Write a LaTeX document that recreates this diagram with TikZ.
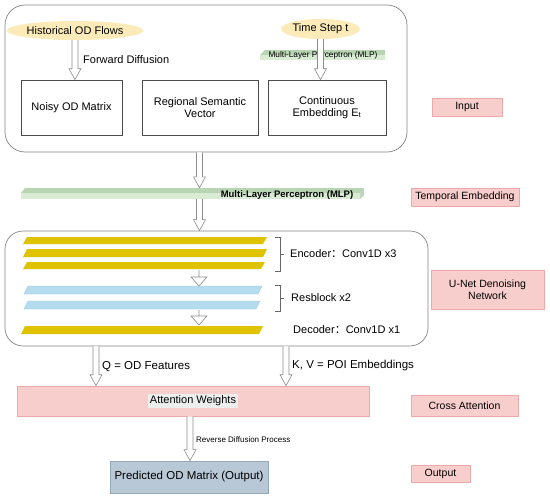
\documentclass[tikz,border=0pt]{standalone}
\usepackage{fontspec}
\setmainfont{Liberation Sans}
\newfontfamily\cjk{Noto Sans CJK SC}
\usetikzlibrary{calc,shapes.geometric}
\definecolor{ellfill}{HTML}{FCEBB8}
\definecolor{pinkfill}{HTML}{F8CECC}
\definecolor{pinkdraw}{HTML}{EDA9A7}
\definecolor{goldbar}{HTML}{E0C300}
\definecolor{bluebar}{HTML}{B5DCEE}
\definecolor{bluedraw}{HTML}{9CCBE0}
\definecolor{greentop}{HTML}{B8D4B2}
\definecolor{greenfront}{HTML}{D9EBD5}
\definecolor{greendraw}{HTML}{A5C59F}
\definecolor{predfill}{HTML}{B9C8D6}
\definecolor{preddraw}{HTML}{94A8BA}
\definecolor{arrgray}{HTML}{8C8C8C}
\definecolor{panelgray}{HTML}{858585}
\definecolor{hilite}{HTML}{ECEEEE}
\newcommand{\fsz}[1]{\fontsize{#1}{#1}\selectfont}
\newcommand{\harr}[2]{\draw[hollowarrow] let \p1=#1, \p2=#2 in
  (\x1-3pt,\y1) -- (\x1-3pt,\y2+11pt) -- (\x1-6pt,\y2+11pt) -- (\x1,\y2)
  -- (\x1+6pt,\y2+11pt) -- (\x1+3pt,\y2+11pt) -- (\x1+3pt,\y1);}
\newcommand{\sarr}[2]{\draw[smallarrow] let \p1=#1, \p2=#2 in
  (\x1,\y1) -- (\x1,\y2+9pt) (\x1-8pt,\y2+9pt) -- (\x1,\y2) -- (\x1+8pt,\y2+9pt) -- cycle;}
\tikzset{
  hollowarrow/.style={draw=arrgray, fill=white, line width=0.6pt, line join=miter},
  smallarrow/.style={draw=arrgray, fill=white, line width=0.6pt},
  panel/.style={draw=panelgray, line width=0.7pt, rounded corners=20pt, inner sep=0pt},
  ellnode/.style={ellipse, fill=ellfill, inner sep=0pt, font=\fsz{11}},
  box/.style={draw=black!70, line width=0.6pt, fill=white, align=center, inner sep=0pt, font=\fsz{11}},
  lbl/.style={draw=pinkdraw, fill=pinkfill, line width=0.6pt, align=center, inner sep=0pt, font=\fsz{10.5}},
  txt/.style={inner sep=0pt, anchor=west, font=\fsz{11}},
  brk/.style={draw=black!60, line width=0.7pt},
}
\begin{document}
\begin{tikzpicture}[x=1pt,y=-1pt]
\fill[white] (0,0) rectangle (550,498);
\useasboundingbox (0,0) rectangle (550,498);
\coordinate (spine) at (199.5,0);

% ---------- Input panel ----------
\node[panel, minimum width=402pt, minimum height=147pt] (inpanel) at (206,78.5) {};
\node[ellnode, minimum width=120pt, minimum height=19pt] (hist) at (75,30.5) {Historical OD Flows};
\node[ellnode, minimum width=71pt, minimum height=20pt] (ts) at (320.5,29) {Time Step t};
\node[box, minimum width=101pt, minimum height=55pt] (noisy) at (71.5,107.5) {Noisy OD Matrix};
\node[box, minimum width=116pt, minimum height=55pt] (region) at (200,107.5) {Regional Semantic\\[1pt]Vector};
\node[box, minimum width=118pt, minimum height=55pt] (cont) at (327,107.5) {Continuous\\[1pt]Embedding E\textsubscript{t}};

% small MLP bar
\fill[greentop] (260,55) -- (265,50) -- (385,50) -- (385,55) -- cycle;
\fill[greenfront] (260,55) -- (385,55) -- (385,60) -- (260,60) -- cycle;
\node[inner sep=0pt, font=\fsz{8.3}] (mlpsmall) at (323,55) {Multi-Layer Perceptron (MLP)};

\harr{(hist.south)}{(hist.south |- noisy.north)}
\node[txt] (fwd) at (83,60) {Forward Diffusion};
\harr{(ts.south)}{(ts.south |- cont.north)}

% ---------- big MLP ----------
\node[minimum width=343pt, minimum height=11pt, inner sep=0pt] (mlp) at (192.5,193.5) {};
\fill[greentop] (21,193) -- (25,188) -- (364,188) -- (360,193) -- cycle;
\fill[greenfront] (21,193) -- (360,193) -- (360,199) -- (21,199) -- cycle;
\fill[greendraw!70] (360,193) -- (364,188) -- (364,195) -- (360,199) -- cycle;
\node[inner sep=0pt, font=\fsz{9.5}\bfseries] (mlptext) at (287,195) {Multi-Layer Perceptron (MLP)};

\harr{(spine |- inpanel.south)}{(spine |- mlp.north)}

% ---------- U-Net ----------
\node[panel, rounded corners=18pt, minimum width=423pt, minimum height=115pt] (unet) at (216.5,288.5) {};
\harr{(spine |- mlp.south)}{(spine |- unet.north)}

\fill[goldbar] (23,244) -- (27,237) -- (267,237) -- (263,244) -- cycle;
\fill[goldbar] (23,257) -- (27,249) -- (267,249) -- (263,257) -- cycle;
\fill[goldbar] (23,269) -- (27,262) -- (265,262) -- (261,269) -- cycle;
\filldraw[fill=bluebar, draw=bluedraw, line width=0.4pt] (24,294) -- (28,286) -- (262,286) -- (258,294) -- cycle;
\filldraw[fill=bluebar, draw=bluedraw, line width=0.4pt] (24,309) -- (28,301) -- (260,301) -- (256,309) -- cycle;
\fill[goldbar] (21,334) -- (25,326) -- (263,326) -- (259,334) -- cycle;

\coordinate (g3b) at (199,270);
\coordinate (b1t) at (199,286);
\coordinate (b2b) at (199,310);
\coordinate (g4t) at (199,325);
\sarr{(g3b)}{(b1t)}
\sarr{(b2b)}{(g4t)}

\draw[brk] (275,237) -- (280,237) -- (280,271) -- (275,271) (280,254) -- (284,254);
\draw[brk] (275,285) -- (280,285) -- (280,311) -- (275,311) (280,298) -- (284,298);
\node[txt] (enc) at (290,254) {Encoder{\cjk ：}Conv1D x3};
\node[txt] (res) at (291,298) {Resblock x2};
\node[txt] (dec) at (293,330) {Decoder{\cjk ：}Conv1D x1};

% ---------- Cross attention ----------
\node[draw=pinkdraw, fill=pinkfill, line width=0.6pt, minimum width=352pt, minimum height=30pt, inner sep=0pt] (att) at (193,401) {};
\node[fill=hilite, inner sep=1.5pt, font=\fsz{11}] (atttext) at (193,401) {Attention Weights};
\coordinate (qx) at (96,0);
\coordinate (kx) at (286,0);
\harr{(qx |- unet.south)}{(qx |- att.north)}
\harr{(kx |- unet.south)}{(kx |- att.north)}
\node[txt, font=\fsz{11.5}] (qtext) at (102,367) {Q = OD Features};
\node[txt, font=\fsz{11.5}] (ktext) at (292,366) {K, V = POI Embeddings};

% ---------- Output ----------
\node[draw=preddraw, fill=predfill, line width=0.7pt, minimum width=158pt, minimum height=32pt, inner sep=0pt, font=\fsz{11.5}] (pred) at (189,477) {Predicted OD Matrix (Output)};
\coordinate (rx) at (190,0);
\harr{(rx |- att.south)}{(rx |- pred.north)}
\node[txt, font=\fsz{8}] (rev) at (196,440) {Reverse Diffusion Process};

% ---------- right labels ----------
\node[lbl, minimum width=70pt, minimum height=18pt] (Linput) at (467,107) {Input};
\node[lbl, minimum width=108pt, minimum height=18pt] (Ltemp) at (465,197) {Temporal Embedding};
\node[lbl, minimum width=113pt, minimum height=39pt] (Lunet) at (487.5,289.5) {U-Net Denoising\\[2pt]Network};
\node[lbl, minimum width=107pt, minimum height=21pt] (Lcross) at (464.5,405.5) {Cross Attention};
\node[lbl, minimum width=59pt, minimum height=17pt] (Lout) at (440.5,473.5) {Output};
\end{tikzpicture}
\end{document}
